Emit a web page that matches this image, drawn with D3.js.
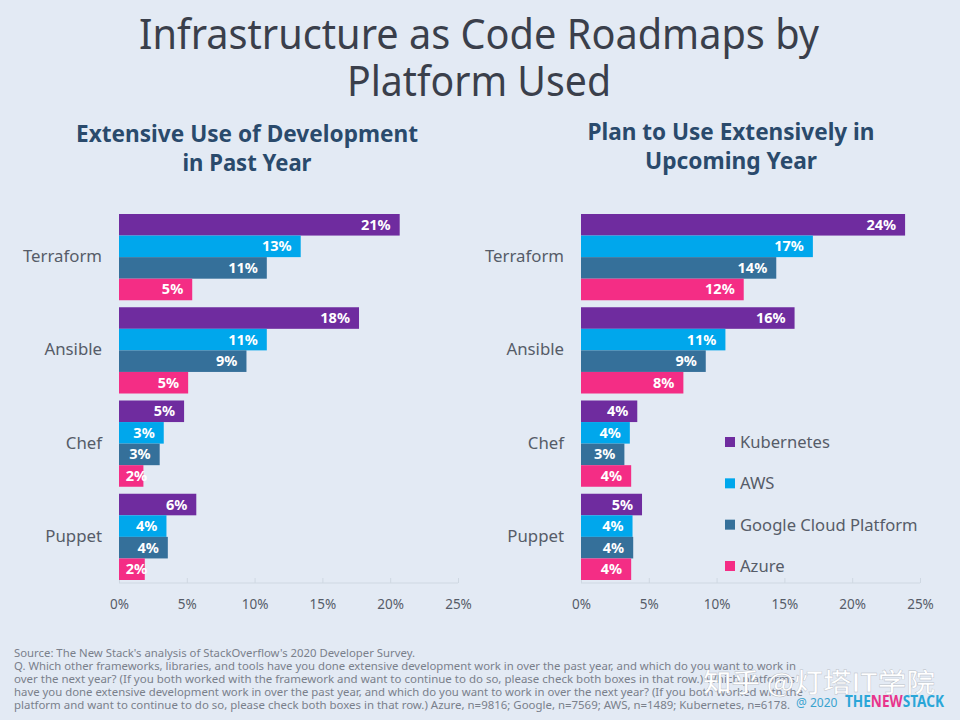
<!DOCTYPE html>
<html lang="en">

<head>
	<title>Infrastructure as Code Roadmaps by Platform Used</title>
	<meta charset="utf-8">
	<script src="https://d3js.org/d3.v7.min.js"></script>
	<style>
		html, body { margin: 0; padding: 0; background: #e3eaf4; }
		svg { display: block; }
		text { font-family: "Noto Sans", sans-serif; }
		.domain { stroke: #cfd8e2; }
		.tick line { stroke: #cfd8e2; }
	</style>
</head>

<body>
	<div id="container"></div>
	<script>
		// Data
		const tools = ["Terraform", "Ansible", "Chef", "Puppet"];
		const platforms = ["Kubernetes", "AWS", "Google Cloud Platform", "Azure"];
		const colors = ["#6f2c9f", "#00a7ec", "#35709a", "#f42d85"];

		const pastKubernetes = [20.7, 17.7, 4.8, 5.7];
		const pastAws = [13.4, 10.9, 3.3, 3.5];
		const pastGoogle = [10.9, 9.4, 3.0, 3.6];
		const pastAzure = [5.4, 5.1, 1.8, 1.9];

		const nextKubernetes = [23.9, 15.75, 4.15, 4.5];
		const nextAws = [17.1, 10.65, 3.6, 3.8];
		const nextGoogle = [14.4, 9.2, 3.2, 3.85];
		const nextAzure = [12.0, 7.55, 3.7, 3.7];

		const pastLabels = [[21, 18, 5, 6], [13, 11, 3, 4], [11, 9, 3, 4], [5, 5, 2, 2]];
		const nextLabels = [[24, 16, 4, 5], [17, 11, 4, 4], [14, 9, 3, 4], [12, 8, 4, 4]];

		const xTicks = [0, 5, 10, 15, 20, 25];

		const titleLines = ["Infrastructure as Code Roadmaps by", "Platform Used"];
		const titleWidths = [680, 264];
		const pastTitle = ["Extensive Use of Development", "in Past Year"];
		const pastTitleWidths = [342, 129];
		const nextTitle = ["Plan to Use Extensively in", "Upcoming Year"];
		const nextTitleWidths = [287, 172];

		const footnotes = [
			"Source: The New Stack's analysis of StackOverflow's 2020  Developer Survey.",
			"Q. Which other frameworks, libraries, and tools have you done extensive development work in over the past year, and which do you want to work in",
			"over the next year? (If you both worked with the framework and want to continue to do so, please check both boxes in that row.) Which platforms",
			"have you done extensive development work in over the past year, and which do you want to work in over the next year? (If you both worked with the",
			"platform and want to continue to do so, please check both boxes in that row.) Azure, n=9816;  Google, n=7569;  AWS, n=1489;  Kubernetes, n=6178."
		];
		const footnoteWidths = [401, 782, 781, 789, 776];

		const width = 960;
		const height = 720;

		const svg = d3.select("#container")
			.append("svg")
			.attr("width", width)
			.attr("height", height);

		svg.append("rect")
			.attr("width", width)
			.attr("height", height)
			.attr("fill", "#e3eaf4");

		// Main title
		svg.selectAll(".title")
			.data(titleLines)
			.enter().append("text")
			.attr("class", "title")
			.attr("x", 479)
			.attr("y", (d, i) => 49 + i * 47)
			.attr("text-anchor", "middle")
			.attr("font-size", 42)
			.attr("fill", "#3a3f4b")
			.attr("textLength", (d, i) => titleWidths[i])
			.attr("lengthAdjust", "spacingAndGlyphs")
			.text(d => d);

		function drawPanel(left, titleX, titleY, heading, headingWidths, series, labels) {
			const x = d3.scaleLinear().domain([0, 25]).range([left, left + 339]);

			const y0 = d3.scaleBand()
				.domain(tools)
				.range([214, 580])
				.paddingInner(0.075);

			const y1 = d3.scaleBand()
				.domain(platforms)
				.range([0, y0.bandwidth()]);

			svg.selectAll(null)
				.data(heading)
				.enter().append("text")
				.attr("x", titleX)
				.attr("y", (d, i) => titleY + i * 29)
				.attr("text-anchor", "middle")
				.attr("font-size", 23.5)
				.attr("font-weight", 700)
				.attr("fill", "#2a4a6c")
				.attr("textLength", (d, i) => headingWidths[i])
				.attr("lengthAdjust", "spacingAndGlyphs")
				.text(d => d);

			// Axis first so that the bars sit on top
			const axis = svg.append("g")
				.attr("transform", "translate(0,583)")
				.call(d3.axisBottom(x)
					.tickValues(xTicks)
					.tickSize(-5)
					.tickPadding(16)
					.tickFormat(d => d + "%"));
			axis.select(".domain").attr("d", `M${left},0H${left + 339}`);
			axis.selectAll("text")
				.attr("font-size", 13.5)
				.attr("fill", "#565c68")
				.style("font-family", '"Noto Sans", sans-serif');

			svg.selectAll(null)
				.data(tools)
				.enter().append("text")
				.attr("x", left - 17)
				.attr("y", d => y0(d) + y0.bandwidth() / 2 + 5)
				.attr("text-anchor", "end")
				.attr("font-size", 16.8)
				.attr("fill", "#565c68")
				.text(d => d);

			series.forEach((values, s) => {
				const g = svg.append("g");
				g.selectAll("rect")
					.data(values)
					.enter().append("rect")
					.attr("x", x(0))
					.attr("y", (d, i) => y0(tools[i]) + y1(platforms[s]))
					.attr("width", d => x(d) - x(0))
					.attr("height", y1.bandwidth())
					.attr("fill", colors[s]);

				g.selectAll("text")
					.data(values)
					.enter().append("text")
					.attr("x", d => Math.max(x(d) - 9, x(0) + 28))
					.attr("y", (d, i) => y0(tools[i]) + y1(platforms[s]) + y1.bandwidth() / 2 + 5)
					.attr("text-anchor", "end")
					.attr("font-size", 14.5)
					.attr("font-weight", 700)
					.attr("fill", "#ffffff")
					.text((d, i) => labels[s][i] + "%");
			});
		}

		drawPanel(119, 247, 142, pastTitle, pastTitleWidths,
			[pastKubernetes, pastAws, pastGoogle, pastAzure], pastLabels);
		drawPanel(581, 731, 140, nextTitle, nextTitleWidths,
			[nextKubernetes, nextAws, nextGoogle, nextAzure], nextLabels);

		// Legend
		const legendY = d3.scalePoint()
			.domain(platforms)
			.range([442, 566]);

		const legend = svg.selectAll(".legend")
			.data(platforms)
			.enter().append("g")
			.attr("class", "legend")
			.attr("transform", d => `translate(725,${legendY(d)})`);

		legend.append("rect")
			.attr("y", -5)
			.attr("width", 10)
			.attr("height", 10)
			.attr("fill", (d, i) => colors[i]);

		legend.append("text")
			.attr("x", 15)
			.attr("y", 6)
			.attr("font-size", 16.6)
			.attr("fill", "#565c68")
			.text(d => d);

		// Footnote
		svg.selectAll(".footnote")
			.data(footnotes)
			.enter().append("text")
			.attr("class", "footnote")
			.attr("x", 14)
			.attr("y", (d, i) => 657 + i * 13)
			.attr("font-size", 11.5)
			.attr("fill", "#7a808b")
			.attr("textLength", (d, i) => footnoteWidths[i])
			.attr("lengthAdjust", "spacingAndGlyphs")
			.text(d => d);

		// Watermark and logo
		svg.append("text")
			.attr("x", 703)
			.attr("y", 692)
			.attr("font-size", 26)
			.attr("font-weight", 500)
			.attr("fill", "#ffffff")
			.attr("stroke", "#8a909a")
			.attr("stroke-width", 0.4)
			.attr("stroke-opacity", 0.6)
			.attr("textLength", 232)
			.attr("lengthAdjust", "spacingAndGlyphs")
			.style("font-family", '"Noto Sans CJK SC", sans-serif')
			.text("知乎 @灯塔IT学院");

		svg.append("text")
			.attr("x", 796)
			.attr("y", 707)
			.attr("font-size", 12)
			.attr("fill", "#3aa3cf")
			.text("@ 2020");

		const logo = svg.append("text")
			.attr("x", 845)
			.attr("y", 707)
			.attr("font-size", 16)
			.attr("font-weight", 700)
			.attr("textLength", 99)
			.attr("lengthAdjust", "spacingAndGlyphs");
		logo.append("tspan").attr("fill", "#2aa6d8").text("THE");
		logo.append("tspan").attr("fill", "#e8358c").text("NEW");
		logo.append("tspan").attr("fill", "#2aa6d8").text("STACK");
	</script>
</body>

</html>
